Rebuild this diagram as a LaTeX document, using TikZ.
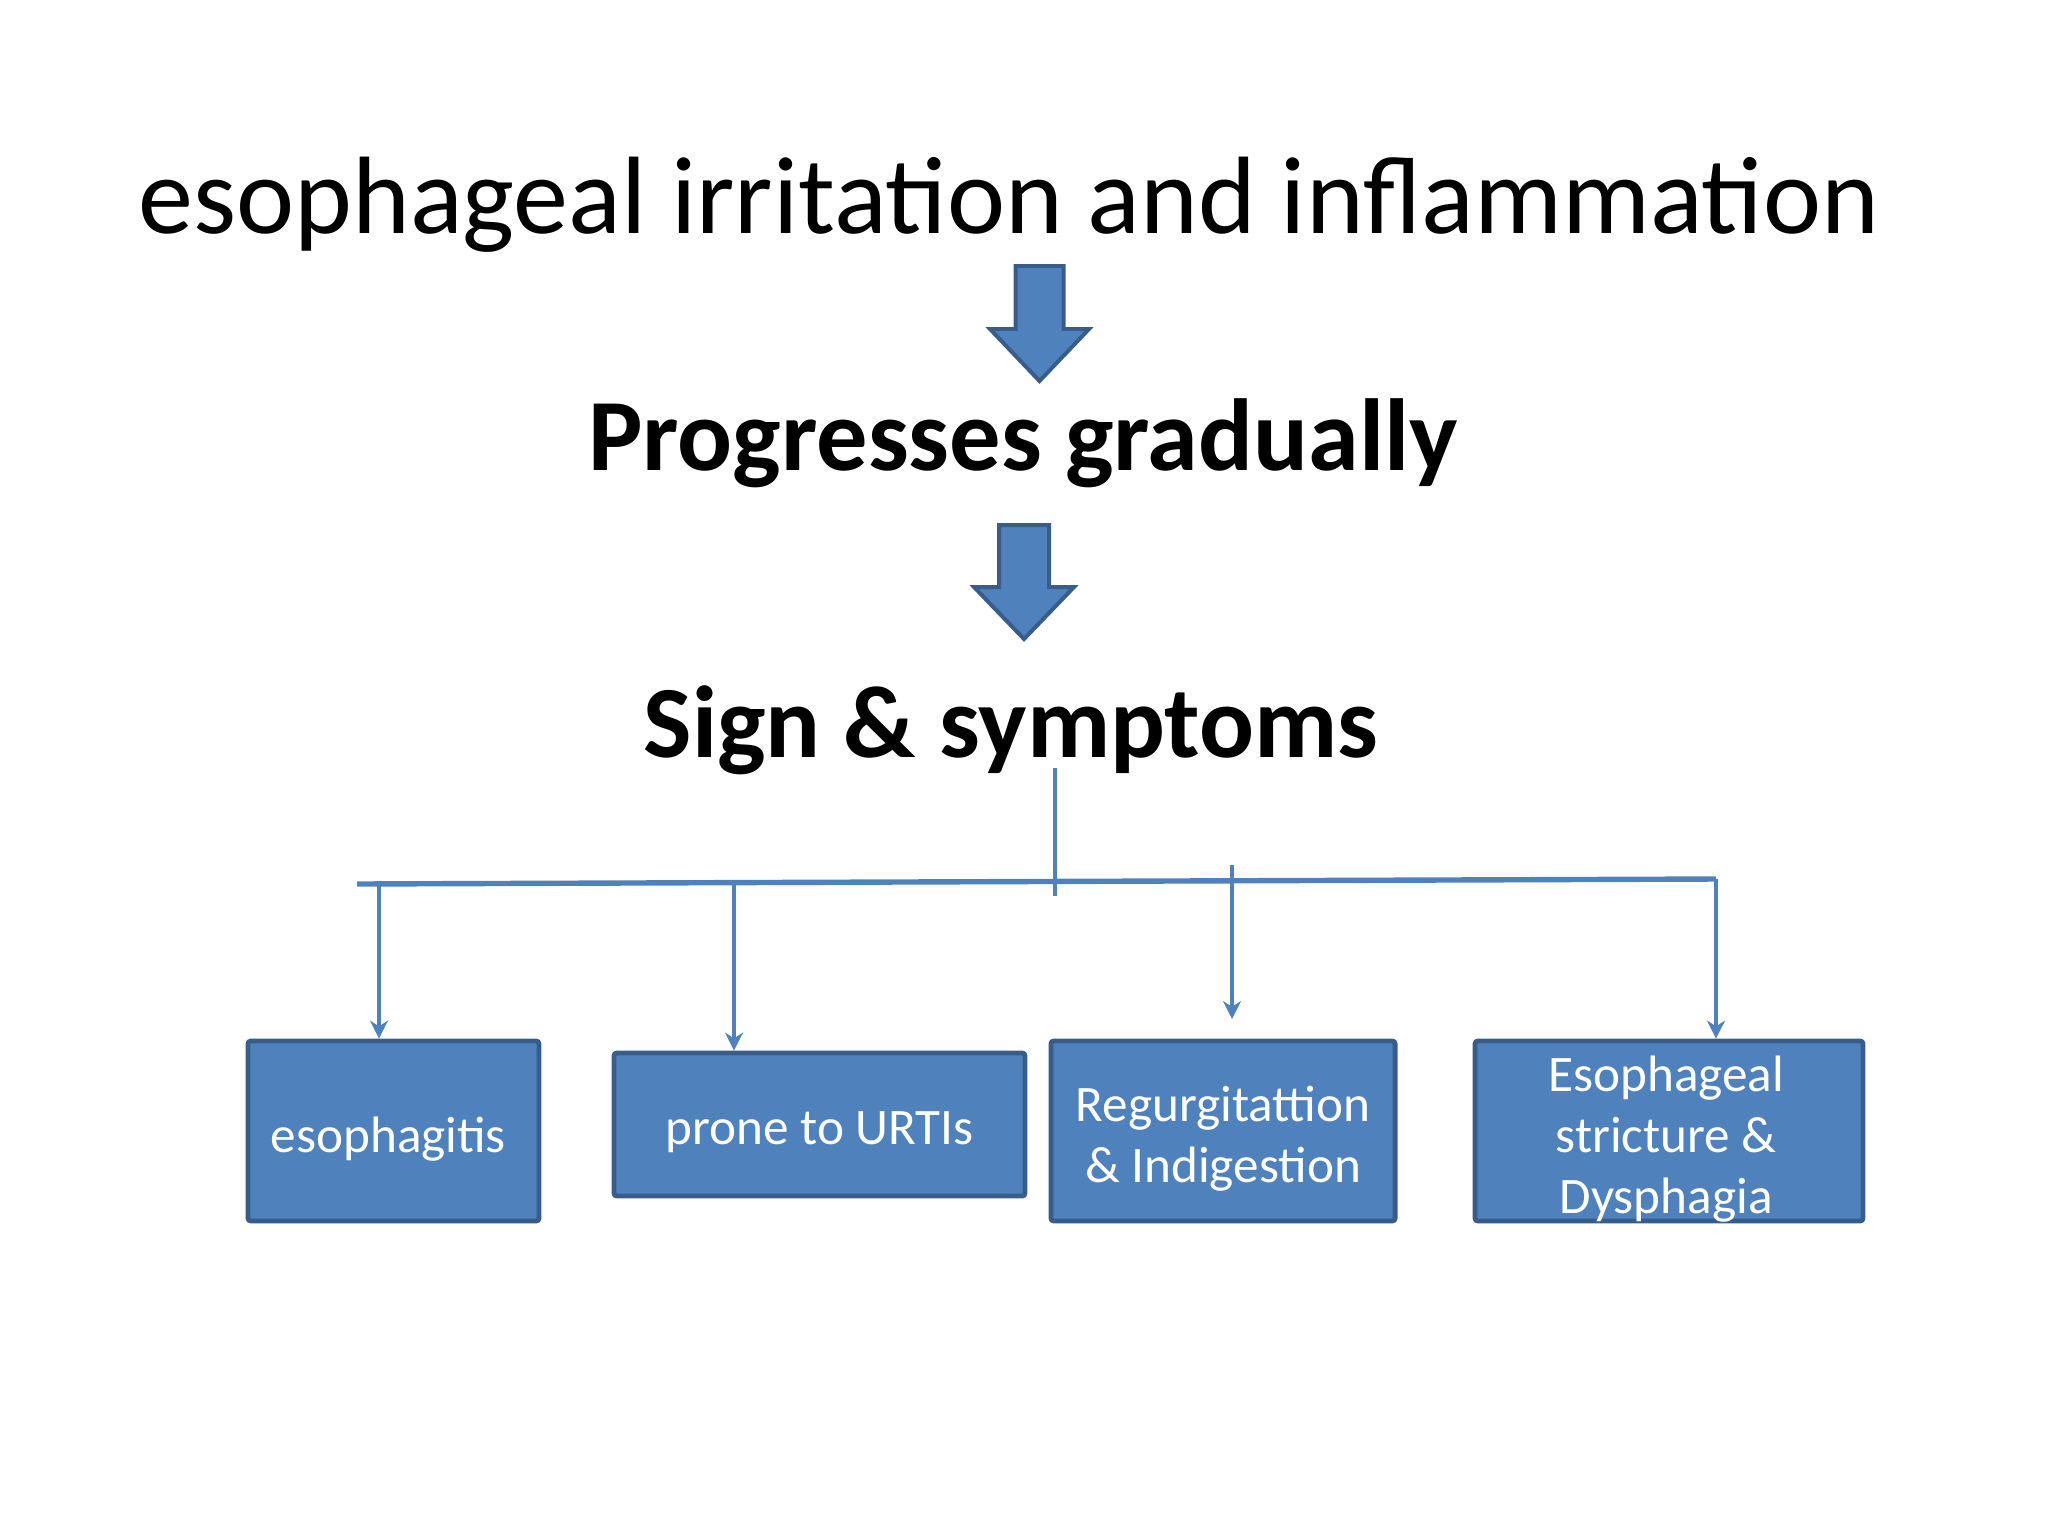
\documentclass[tikz,border=0pt]{standalone}
\usepackage{fontspec}
\setmainfont{Carlito}
\usepackage{tikz}
\usetikzlibrary{arrows.meta, positioning, calc}
\definecolor{office-blue}{HTML}{4F81BD}
\definecolor{office-edge}{HTML}{385D8A}

\begin{document}
\begin{tikzpicture}[
    x=0.3516pt, y=-0.3516pt,
    title/.style={font=\fontsize{38.7}{46}\selectfont, inner sep=0pt},
    heading/.style={font=\fontsize{36}{43}\selectfont\bfseries, inner sep=0pt},
    symptom/.style={rectangle, draw=office-edge, fill=office-blue, line width=1.7pt, rounded corners=1pt},
    symptomtext/.style={text=white, align=center, font=\fontsize{18}{21.5}\selectfont, inner sep=0pt, yshift=-2.8pt},
    flow/.style={draw=office-edge, fill=office-blue, line width=1.4pt, line join=miter},
    branch/.style={draw=office-blue, line width=1.7pt},
    arrow/.style={branch, -{Stealth[length=6.3pt, width=6.3pt, inset=2pt]}}
]
\useasboundingbox (0,0) rectangle (2048,1536);

% Titel und Stufen
\node[title] (irritation) at (1009,205) {esophageal irritation and inflammation};
\node[heading] (gradual) at (1023,443) {Progresses gradually};
\node[heading] (signs) at (1011,730) {Sign \& symptoms};

% Blockpfeile
\coordinate (dropA) at (1039.5,266);
\coordinate (dropB) at (1024,525);
\draw[flow] (dropA) ++(-24,0) -- ++(48,0) -- ++(0,63) -- ++(25.5,0) -- ++(-49.5,52) -- ++(-49.5,-52) -- ++(25.5,0) -- cycle;
\draw[flow] (dropB) ++(-25,0) -- ++(50,0) -- ++(0,62) -- ++(25,0) -- ++(-50,52) -- ++(-50,-52) -- ++(25,0) -- cycle;

% Symptome
\node[symptom, minimum width=102.3pt, minimum height=63.3pt,
  label={[symptomtext, xshift=-1.8pt]center:esophagitis}] (esoph) at (393.5,1131) {};
\node[symptom, minimum width=144.5pt, minimum height=50.3pt,
  label={[symptomtext]center:prone to URTIs}] (urti) at (819.5,1124.5) {};
\node[symptom, minimum width=121pt, minimum height=63.3pt,
  label={[symptomtext]center:{Regurgitattion\\\& Indigestion}}] (reflux) at (1223,1131) {};
\node[symptom, minimum width=136.4pt, minimum height=63.3pt,
  label={[symptomtext, xshift=-1pt]center:{Esophageal\\stricture \&\\Dysphagia}}] (stricture) at (1669,1131) {};

% Verzweigung
\coordinate (stem) at (1055,768);
\coordinate (barL) at (357,884);
\coordinate (barR) at (1716,879);
\coordinate (tapA) at (379,883.9);
\coordinate (tapB) at (734,882.6);
\coordinate (tapC) at (1232,865);
\coordinate (tapCend) at (1232,1019);

\draw[branch] (stem) -- ++(0,128);
\draw[branch, line width=1.9pt] (barL) -- (barR);
\draw[arrow] (tapA) -- (tapA |- esoph.north);
\draw[arrow] (tapB) -- (tapB |- urti.north);
\draw[arrow] (tapC) -- (tapCend);
\draw[arrow] (barR) -- (barR |- stricture.north);

\end{tikzpicture}
\end{document}
